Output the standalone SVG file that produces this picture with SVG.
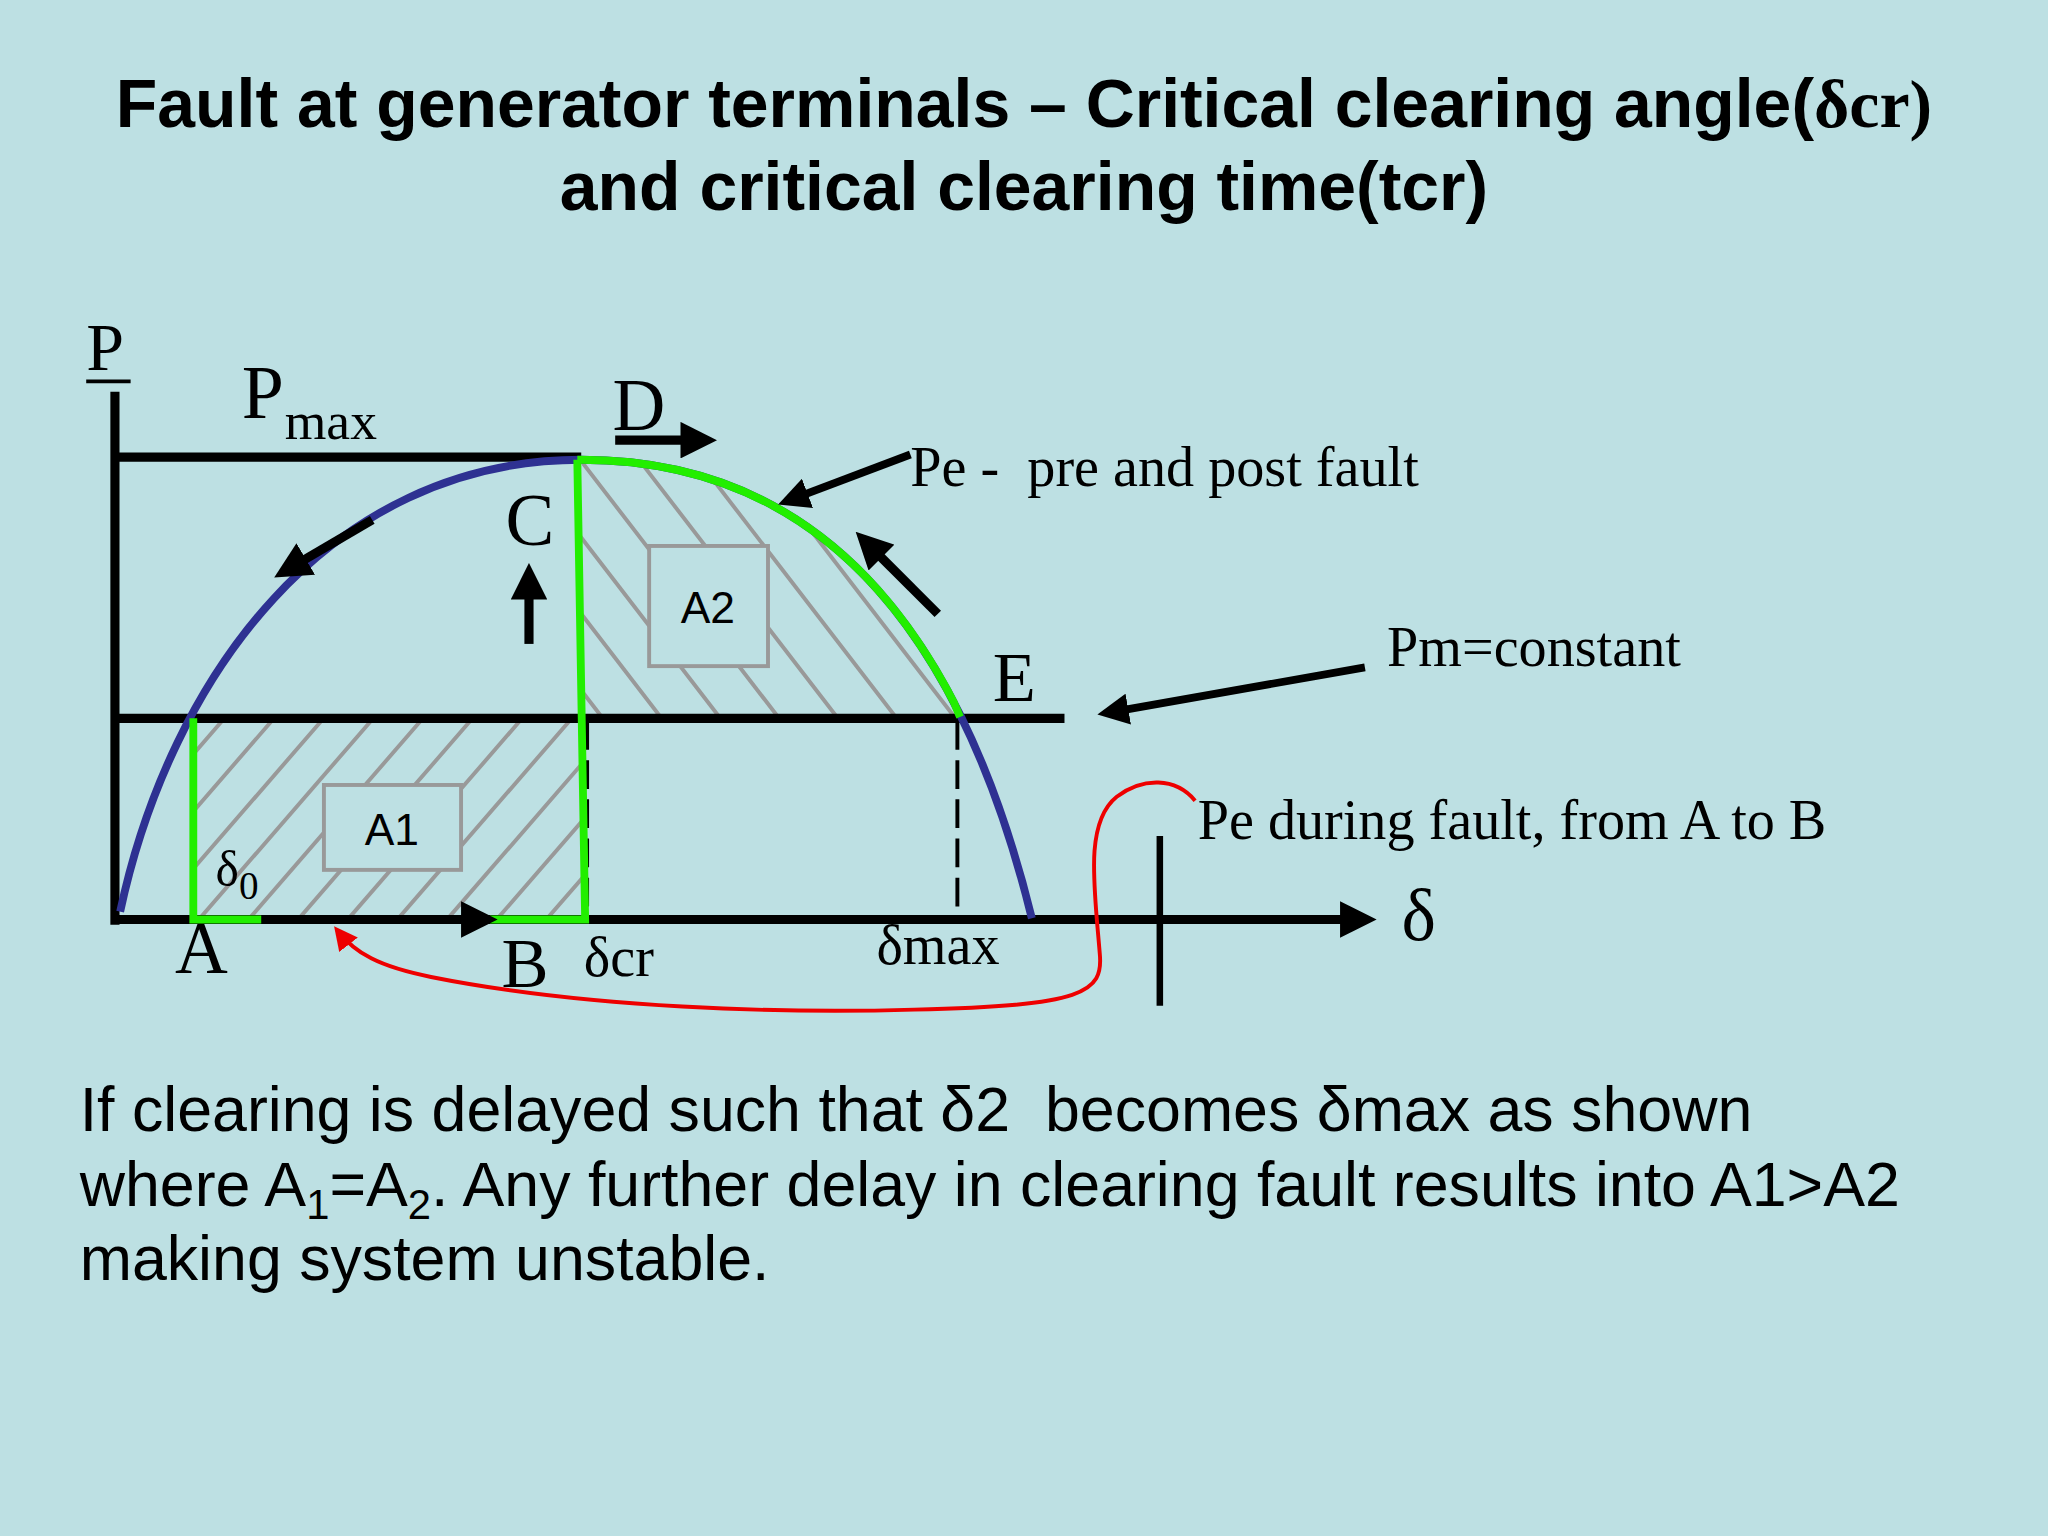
<svg xmlns="http://www.w3.org/2000/svg" width="2048" height="1536" viewBox="0 0 2048 1536">
<defs>
<style>
.s{font-family:"Liberation Serif",serif;fill:#000}
.a{font-family:"Liberation Sans",Arial,sans-serif;fill:#000}
.k{stroke:#000;stroke-width:7;fill:none}
.h{stroke:#999;stroke-width:3}
.g{stroke:#22ee00;stroke-width:6;fill:none}
.bx{fill:#bde0e3;stroke:#999;stroke-width:3}
</style>
<marker id="ah" viewBox="0 0 10 10" refX="5" refY="5" markerWidth="4" markerHeight="4" orient="auto" markerUnits="strokeWidth"><path d="M0,0L10,5L0,10z" fill="#000"/></marker>
<marker id="rh" viewBox="0 0 10 10" refX="8" refY="5" markerWidth="6" markerHeight="6" orient="auto" markerUnits="strokeWidth"><path d="M0,0L10,5L0,10z" fill="#e00"/></marker>
<clipPath id="c1"><rect x="150" y="553" width="296" height="149"/></clipPath>
<clipPath id="c2"><path d="M445,352 C581.5,352 671.5,424.5 730.3,537.7 L736,548 L445,548z"/></clipPath>
</defs>
<rect width="2048" height="1536" fill="#bde0e3"/>
<g transform="scale(1.30612)">
<g id="title">
<text x="784" y="97" text-anchor="middle" class="a" font-size="52" font-weight="bold">Fault at generator terminals – Critical clearing angle(<tspan class="s">δcr)</tspan></text>
<text x="784" y="161" text-anchor="middle" class="a" font-size="52" font-weight="bold">and critical clearing time(tcr)</text>
</g>
<g id="hatch">
<g clip-path="url(#c1)">
<path class="h" d="M40,702l130,-150M78,702l130,-150M116,702l130,-150M154,702l130,-150M192,702l130,-150M230,702l130,-150M268,702l130,-150M306,702l130,-150M344,702l130,-150M382,702l130,-150M420,702l130,-150"/>
</g>
<g clip-path="url(#c2)">
<path class="h" d="M300,340l160,208M345,340l160,208M390,340l160,208M435,340l160,208M480,340l160,208M525,340l160,208M570,340l160,208M615,340l160,208M660,340l160,208"/>
</g>
</g>
<g id="axes">
<line class="k" x1="88" y1="300" x2="88" y2="708"/>
<line class="k" x1="85" y1="704" x2="1040" y2="704" marker-end="url(#ah)"/>
<line class="k" x1="88" y1="350" x2="445" y2="350"/>
<line class="k" x1="88" y1="550" x2="815" y2="550"/>
<line x1="888" y1="640" x2="888" y2="770" stroke="#000" stroke-width="5"/>
<line x1="449" y1="552" x2="449" y2="704" stroke="#000" stroke-width="4" stroke-dasharray="22,8"/>
<line x1="733" y1="552" x2="733" y2="700" stroke="#000" stroke-width="3" stroke-dasharray="22,8"/>
</g>
<path id="curve" d="M92,698 C130,520 250,352 445,352 C640,352 740,500 790,703" fill="none" stroke="#2e3192" stroke-width="6"/>
<g id="green">
<path class="g" d="M148,550V704H200"/>
<path class="g" d="M375,704H448L442,352"/>
<path class="g" d="M442,352 H445 C581.5,352 671.5,424.5 730.3,537.7 L735,549"/>
</g>
<g id="A1"><rect class="bx" x="248" y="601" width="105" height="65"/><text x="300" y="647" text-anchor="middle" class="a" font-size="34">A1</text></g>
<g id="A2"><rect class="bx" x="497" y="418" width="91" height="92"/><text x="542" y="477" text-anchor="middle" class="a" font-size="34">A2</text></g>
<g id="connectors">
<line class="k" x1="285" y1="398" x2="222" y2="435" marker-end="url(#ah)"/>
<line class="k" x1="405" y1="493" x2="405" y2="445" marker-end="url(#ah)"/>
<line class="k" x1="471" y1="337" x2="535" y2="337" marker-end="url(#ah)"/>
<line class="k" x1="718" y1="470" x2="665" y2="417" marker-end="url(#ah)"/>
<line x1="697" y1="348" x2="607" y2="382" stroke="#000" stroke-width="6" marker-end="url(#ah)"/>
<line x1="1045" y1="511" x2="852" y2="545" stroke="#000" stroke-width="6" marker-end="url(#ah)"/>
<line x1="330" y1="704" x2="367" y2="704" stroke="#000" stroke-width="7" marker-end="url(#ah)"/>
<path d="M915,613 C900,595 875,595 855,610 C830,630 838,680 842,730 C845,760 830,770 700,773 C600,776 450,772 330,748 C290,740 272,730 258,712" fill="none" stroke="#e00" stroke-width="3" marker-end="url(#rh)"/>
</g>
<g id="labels">
<text x="66" y="283" class="s" font-size="52">P</text>
<line x1="66" y1="292" x2="100" y2="292" stroke="#000" stroke-width="3"/>
<text x="185" y="320" class="s" font-size="58">P</text>
<text x="218" y="336" class="s" font-size="41">max</text>
<text x="469" y="329" class="s" font-size="56">D</text>
<text x="387" y="417" class="s" font-size="56">C</text>
<text x="760" y="537" class="s" font-size="54">E</text>
<text x="134" y="745" class="s" font-size="56">A</text>
<text x="384" y="756" class="s" font-size="54">B</text>
<text x="447" y="747" class="s" font-size="43">δcr</text>
<text x="671" y="738" class="s" font-size="43">δmax</text>
<text x="165" y="678" class="s" font-size="38">δ<tspan font-size="30" dy="10">0</tspan></text>
<text x="1073" y="720" class="s" font-size="56">δ</text>
<text x="697" y="372" class="s" font-size="43" xml:space="preserve">Pe -  pre and post fault</text>
<text x="1062" y="510" class="s" font-size="43">Pm=constant</text>
<text x="917" y="642" class="s" font-size="43">Pe during fault, from A to B</text>
</g>
<g id="body" class="a" font-size="48">
<text x="61" y="866" class="a" xml:space="preserve">If clearing is delayed such that δ2  becomes δmax as shown</text>
<text x="61" y="923" class="a">where A<tspan font-size="32" dy="10">1</tspan><tspan dy="-10">=A</tspan><tspan font-size="32" dy="10">2</tspan><tspan dy="-10">. Any further delay in clearing fault results into A1&gt;A2</tspan></text>
<text x="61" y="980" class="a">making system unstable.</text>
</g>
</g>
</svg>
